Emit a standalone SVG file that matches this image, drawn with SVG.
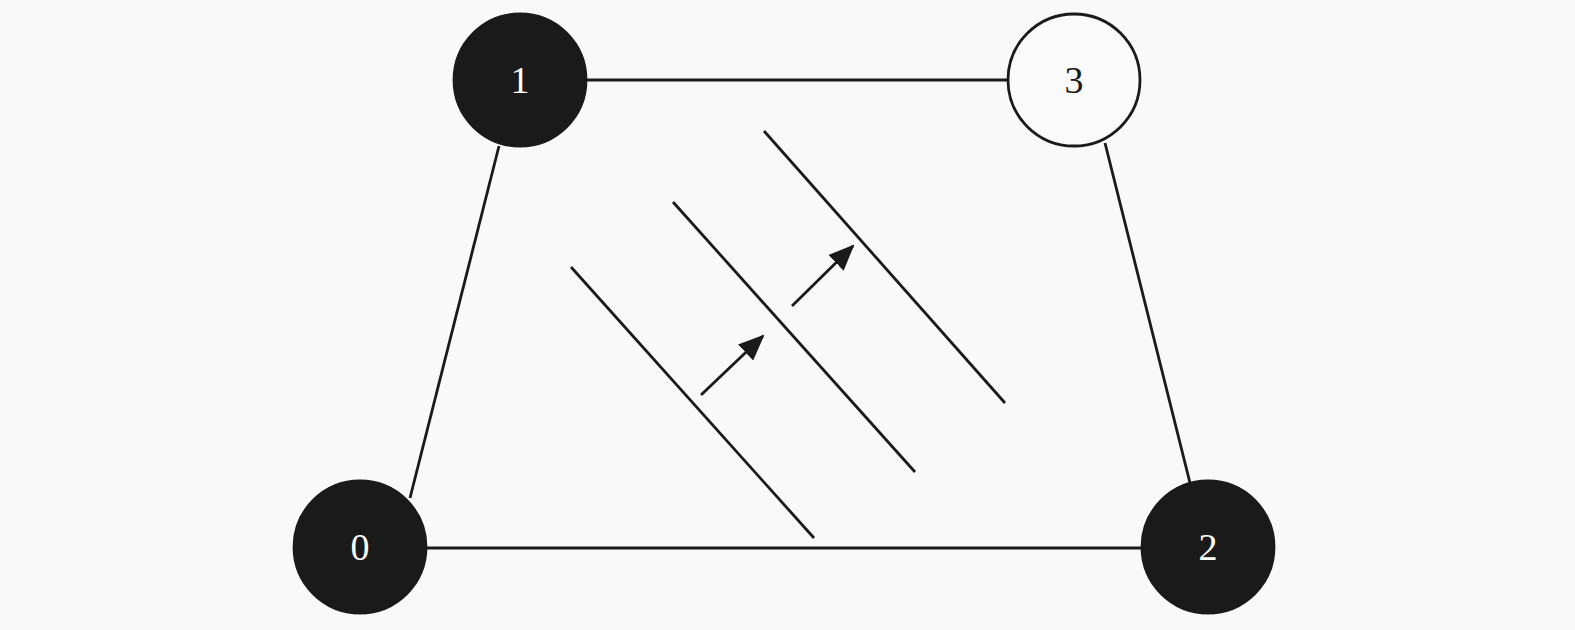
<svg xmlns="http://www.w3.org/2000/svg" width="1575" height="630" viewBox="0 0 1575 630">
<style>
.edge{stroke:#1a1a1a;stroke-width:2.8;fill:none}
.dark{fill:#1a1a1a;stroke:#1a1a1a;stroke-width:2.8}
.light{fill:#fafafa;stroke:#1a1a1a;stroke-width:2.8}
.lblw{font-family:"Liberation Serif",serif;font-size:38px;fill:#ffffff;text-anchor:middle}
.lblb{font-family:"Liberation Serif",serif;font-size:38px;fill:#1a1a1a;text-anchor:middle}
</style>
<defs>
<marker id="ah2" viewBox="0 0 26 22" refX="24" refY="11" markerWidth="26" markerHeight="22" orient="auto" markerUnits="userSpaceOnUse">
<path d="M0,0 L26,11 L0,22 z" fill="#1a1a1a"/>
</marker>
</defs>
<rect width="1575" height="630" fill="#f9f9f9"/>
<g id="connectors">
<line class="edge" x1="586" y1="80" x2="1008" y2="80"/>
<line class="edge" x1="499" y1="146" x2="410" y2="498"/>
<line class="edge" x1="1105" y1="143" x2="1190" y2="483"/>
<line class="edge" x1="426" y1="548" x2="1142" y2="548"/>
<line class="edge" x1="571" y1="267" x2="814" y2="538"/>
<line class="edge" x1="673" y1="202" x2="915" y2="472"/>
<line class="edge" x1="764" y1="131" x2="1005" y2="403"/>
<line class="edge" x1="701" y1="395" x2="763" y2="336" marker-end="url(#ah2)"/>
<line class="edge" x1="792" y1="306" x2="853" y2="246" marker-end="url(#ah2)"/>
</g>
<g id="node1"><circle class="dark" cx="520" cy="80" r="66"/><text class="lblw" x="520" y="93">1</text></g>
<g id="node3"><circle class="light" cx="1074" cy="80" r="66"/><text class="lblb" x="1074" y="93">3</text></g>
<g id="node0"><circle class="dark" cx="360" cy="547" r="66"/><text class="lblw" x="360" y="560">0</text></g>
<g id="node2"><circle class="dark" cx="1208" cy="547" r="66"/><text class="lblw" x="1208" y="560">2</text></g>
</svg>
